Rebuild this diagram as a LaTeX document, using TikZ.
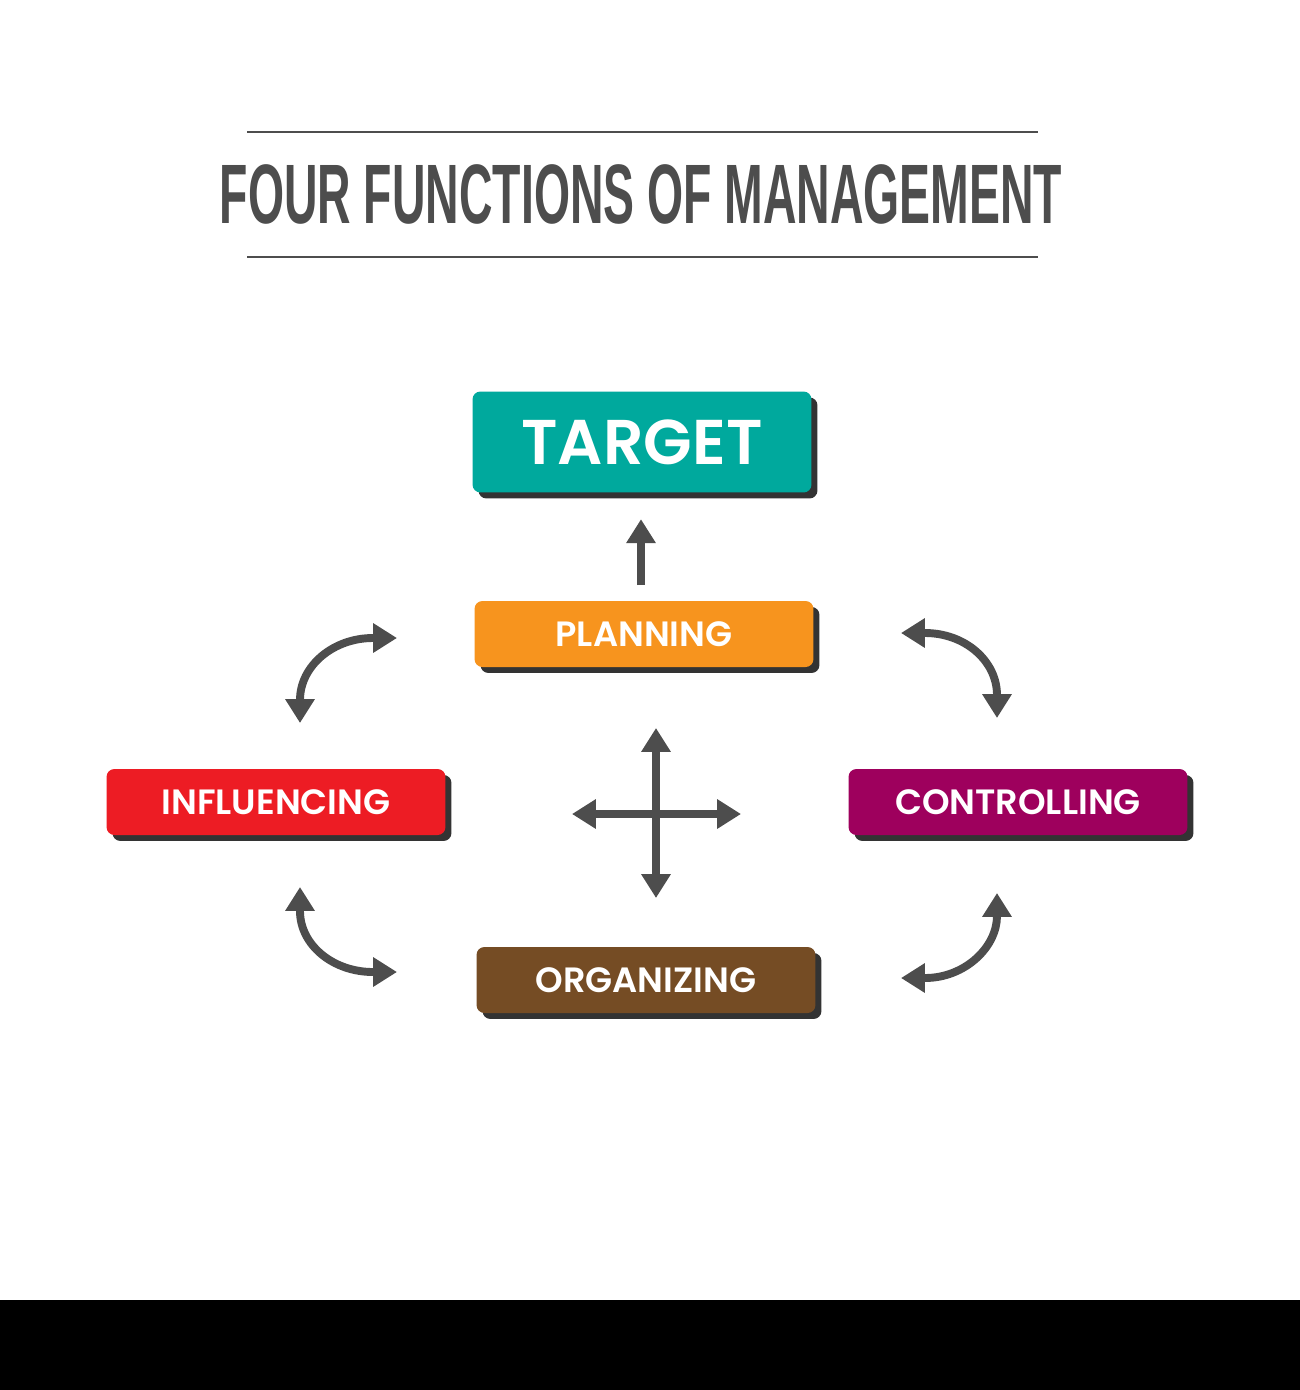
\documentclass[tikz,border=0pt]{standalone}
\usepackage{fontspec}
\setmainfont{Poppins}[BoldFont={Poppins SemiBold}]
\newfontfamily\titlefont[FakeStretch=0.55]{Liberation Sans}
\usepackage{tikz}
\usetikzlibrary{arrows.meta,shadows}
\definecolor{tealbox}{HTML}{00A99D}
\definecolor{orangebox}{HTML}{F7941E}
\definecolor{redbox}{HTML}{ED1C24}
\definecolor{plumbox}{HTML}{9E005D}
\definecolor{brownbox}{HTML}{754C24}
\definecolor{arrowgray}{HTML}{4D4D4D}
\definecolor{shade}{HTML}{333333}

\begin{document}
\begin{tikzpicture}[x=0.02cm,y=-0.02cm,every node/.style={font=\bfseries}]
\tikzset{box/.style={rounded corners=4.5pt, minimum width=6.78cm, minimum height=1.32cm, text=white,
    font=\fontsize{20}{24}\selectfont\bfseries,
    drop shadow={shadow xshift=3.4pt,shadow yshift=-3.4pt,fill=shade,opacity=1}},
  arr/.style={draw=arrowgray, line width=4.5pt, {Triangle[length=13.6pt,width=16pt]}-{Triangle[length=13.6pt,width=16pt]}}}
\useasboundingbox[fill=white] (0,0) rectangle (1300,1390);
% title between two rules
\node[font=\titlefont\bfseries\fontsize{48}{50}\selectfont, text=arrowgray] (title) at (641,194) {FOUR FUNCTIONS OF MANAGEMENT};
\draw[arrowgray, line width=1.2pt] (247,132) -- (1038,132);
\draw[arrowgray, line width=1.2pt] (247,257) -- (1038,257);
% the five boxes
\node[box, fill=tealbox, minimum height=2.02cm, font=\fontsize{36}{40}\selectfont\bfseries] (target) at (642,442) {TARGET};
\node[box, fill=orangebox] (plan) at (644,634) {PLANNING};
\node[box, fill=redbox] (infl) at (276,802) {INFLUENCING};
\node[box, fill=plumbox] (ctrl) at (1018,802) {CONTROLLING};
\node[box, fill=brownbox] (orga) at (646,980) {ORGANIZING};
% planning leads to the target
\coordinate (up) at (641,602);
\draw[draw=arrowgray, line width=4.5pt, -{Triangle[length=13.6pt,width=16pt]}, shorten <=9.6pt, shorten >=15pt] (up) -- (up |- target.south);
% cross in the middle
\coordinate (mid) at (656,814);
\coordinate (mn) at (656,728); \coordinate (ms) at (656,898);
\coordinate (mw) at (572,814); \coordinate (me) at (741,814);
\draw[arr] (mn) -- (ms);
\draw[arr] (mw) -- (me);
% curved arrows round the cycle
\coordinate (p1) at (397,638); \coordinate (i1) at (300,723);
\coordinate (p2) at (901,633); \coordinate (c1) at (997,718);
\coordinate (i2) at (300,887); \coordinate (o1) at (397,972);
\coordinate (c2) at (997,893); \coordinate (o2) at (901,978);
\draw[arr] (i1) -- (300,700) .. controls (300,666) and (333,638) .. (373,638) -- (p1);
\draw[arr] (p2) -- (925,633) .. controls (965,633) and (997,661) .. (997,695) -- (c1);
\draw[arr] (i2) -- (300,911) .. controls (300,945) and (333,972) .. (373,972) -- (o1);
\draw[arr] (c2) -- (997,916) .. controls (997,947) and (965,978) .. (925,978) -- (o2);
% dark band at the foot
\fill[black] (0,1300) rectangle (1300,1390);
\end{tikzpicture}
\end{document}
